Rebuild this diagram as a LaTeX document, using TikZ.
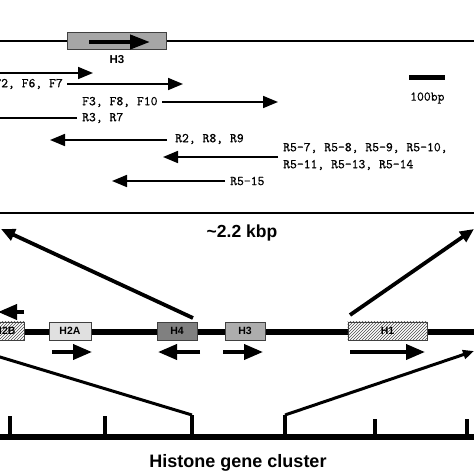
\documentclass[tikz,border=0pt]{standalone}
\usepackage{fontspec}
\newfontfamily\hv{Liberation Sans}
\newfontfamily\tyw{Latin Modern Mono}[FakeBold=0.6]
\usetikzlibrary{arrows.meta,patterns}
\begin{document}
\begin{tikzpicture}[x=1pt,y=-1pt,
  primer/.style={line width=1.7pt,-{Triangle[length=15pt,width=12pt]}},
  lbl/.style={font=\fontsize{13.3}{15}\selectfont\tyw, inner sep=0pt, anchor=west},
  lble/.style={lbl, anchor=east},
  gene/.style={draw=black!75,line width=0.6pt,minimum height=18pt,inner sep=0pt,
    font=\hv\bfseries\fontsize{10.5}{12}\selectfont},
  garrow/.style={line width=3.8pt,-{Triangle[length=19pt,width=15pt]}},
  bigarrow/.style={line width=3.8pt,-{Triangle[length=14pt,width=12pt]}},
  thinline/.style={line width=2.6pt},
  thickline/.style={line width=5.5pt},
  tick/.style={line width=3.5pt},
  hatched/.style={pattern=north east lines, pattern color=black!70}
]
\useasboundingbox (0,0) rectangle (474,474);
\fill[white] (0,0) rectangle (474,474);

% ---------- top: H3 gene with primers ----------
\coordinate (tl) at (-5,41);
\coordinate (tr) at (480,41);
\draw[thinline] (tl) -- (tr);
\node[gene, fill=black!35, minimum width=99pt, minimum height=17pt] (topH3) at (116.5,40.5) {};
\coordinate (a3s) at (89,42);
\coordinate (a3e) at (150,42);
\draw[line width=4pt,-{Triangle[length=20pt,width=14pt]}] (a3s) -- (a3e);
\node[font=\hv\bfseries\fontsize{11.5}{13}\selectfont] (lH3) at (117,60) {H3};

% primers
\coordinate (p1s) at (-5,73);   \coordinate (p1e) at (93,73);
\draw[primer] (p1s) -- (p1e);
\node[lble] (lF1) at (63,84) {F2, F6, F7};
\coordinate (p2s) at (67,84);   \coordinate (p2e) at (183,84);
\draw[primer] (p2s) -- (p2e);
\node[lbl] (lF2) at (82,102) {F3, F8, F10};
\coordinate (p3s) at (162,102); \coordinate (p3e) at (278,102);
\draw[primer] (p3s) -- (p3e);
\coordinate (p4s) at (77,118);  \coordinate (p4e) at (-40,118);
\draw[primer] (p4s) -- (p4e);
\node[lbl] (lR1) at (82,118) {R3, R7};
\coordinate (p5s) at (167,140); \coordinate (p5e) at (50,140);
\draw[primer] (p5s) -- (p5e);
\node[lbl] (lR2) at (175,139) {R2, R8, R9};
\coordinate (p6s) at (278,157); \coordinate (p6e) at (163,157);
\draw[primer] (p6s) -- (p6e);
\node[lbl] (lR3) at (283,148) {R5-7, R5-8, R5-9, R5-10,};
\node[lbl] (lR4) at (283,165) {R5-11, R5-13, R5-14};
\coordinate (p7s) at (225,181); \coordinate (p7e) at (112,181);
\draw[primer] (p7s) -- (p7e);
\node[lbl] (lR5) at (230,181) {R5-15};

% scale bar
\coordinate (sb1) at (409,77); \coordinate (sb2) at (445,77);
\draw[line width=5pt] (sb1) -- (sb2);
\node[lbl] (lsb) at (410,98) {100bp};

% ---------- separator ----------
\coordinate (ml) at (-5,213);
\coordinate (mr) at (480,213);
\draw[thinline] (ml) -- (mr);
\node[font=\hv\bfseries\fontsize{17.5}{20}\selectfont] (kbp) at (242,233) {\textasciitilde 2.2 kbp};

% ---------- gene cluster ----------
\coordinate (gl) at (-5,332);
\coordinate (gr) at (480,332);
\draw[thickline] (gl) -- (gr);
\node[gene, fill=white, minimum width=38pt] (H2Bb) at (5,331) {};
\fill[hatched] (H2Bb.south west) rectangle (H2Bb.north east);
\node[gene, minimum width=38pt] (H2B) at (5,331) {H2B};
\node[gene, fill=black!12, minimum width=42pt] (H2A) at (70,331) {H2A};
\node[gene, fill=black!50, minimum width=40pt] (H4) at (177,331) {H4};
\node[gene, fill=black!32, minimum width=40pt] (H3) at (245,331) {H3};
\node[gene, fill=white, minimum width=79pt] (H1b) at (387.5,331) {};
\fill[hatched] (H1b.south west) rectangle (H1b.north east);
\node[gene, minimum width=79pt] (H1) at (387.5,331) {H1};

% gene direction arrows
\coordinate (g0s) at (24,312);  \coordinate (g0e) at (-2,312);
\draw[garrow] (g0s) -- (g0e);
\coordinate (g1s) at (52,352);  \coordinate (g1e) at (92,352);
\draw[garrow] (g1s) -- (g1e);
\coordinate (g2s) at (200,352); \coordinate (g2e) at (158,352);
\draw[garrow] (g2s) -- (g2e);
\coordinate (g3s) at (223,352); \coordinate (g3e) at (263,352);
\draw[garrow] (g3s) -- (g3e);
\coordinate (g4s) at (350,352); \coordinate (g4e) at (425,352);
\draw[garrow] (g4s) -- (g4e);

% big expansion arrows
\coordinate (bl1) at (193,318); \coordinate (bl2) at (1,229);
\draw[bigarrow] (bl1) -- (bl2);
\coordinate (br1) at (350,315); \coordinate (br2) at (474,229);
\draw[bigarrow] (br1) -- (br2);

% ---------- bottom cluster map ----------
\coordinate (bbl) at (-5,437);
\coordinate (bbr) at (480,437);
\draw[thickline] (bbl) -- (bbr);
\foreach \x/\t [count=\i] in {10/416,105/416,192/415,285/415,375/419,467/419}{
  \coordinate (tb\i) at (\x,437);
  \coordinate (tt\i) at (\x,\t);
  \draw[tick] (tb\i) -- (tt\i);
}
\coordinate (el) at (-5,355.5);
\draw[line width=3pt] (tt3) -- (el);
\coordinate (er) at (474,351);
\draw[line width=3pt,-{Triangle[length=11pt,width=9pt]}] (tt4) -- (er);

\node[font=\hv\bfseries\fontsize{18}{20}\selectfont] (title) at (238,463) {Histone gene cluster};
\end{tikzpicture}
\end{document}
